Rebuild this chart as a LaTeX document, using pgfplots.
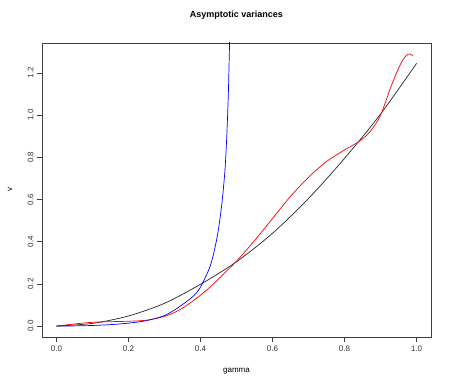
\documentclass[border=0pt]{standalone}
\usepackage{fontspec}
\setmainfont{Liberation Sans}
\usepackage{pgfplots}
\pgfplotsset{compat=1.18}
\begin{document}
\begin{tikzpicture}
\useasboundingbox (-42pt,-43pt) rectangle (432pt,337pt);
\begin{axis}[
  at={(0,0)}, anchor=south west,
  scale only axis, width=389pt, height=294pt,
  xmin=-0.04, xmax=1.04, ymin=-0.0516, ymax=1.3416,
  xtick={0,0.2,0.4,0.6,0.8,1.0},
  ytick={0,0.2,0.4,0.6,0.8,1.0,1.2},
  /pgf/number format/assume math mode=true,
  /pgf/number format/.cd, fixed, fixed zerofill, precision=1, /pgfplots/.cd,
  tick align=outside, major tick length=5pt,
  xtick pos=bottom, ytick pos=left,
  axis line style={black!75}, tick style={black!75, line width=0.5pt},
  ticklabel style={font=\fontsize{8}{9}\selectfont, text=black!80},
  yticklabel style={rotate=90, anchor=south},
  title={Asymptotic variances},
  title style={at={(axis description cs:0.5,1.0748)}, anchor=center, font=\bfseries\fontsize{9}{10}\selectfont},
  xlabel={gamma}, ylabel={v},
  xlabel style={at={(axis description cs:0.5,-0.1156)}, anchor=center, font=\fontsize{8}{9}\selectfont},
  ylabel style={at={(axis description cs:-0.0823,0.5)}, anchor=center, font=\fontsize{8}{9}\selectfont},
]
% black
\addplot[black!85, line width=0.7pt, smooth] coordinates {
(0,0) (0.1,0.013) (0.2,0.048) (0.3,0.108) (0.4,0.198) (0.5,0.305)
(0.6,0.44) (0.7,0.605) (0.8,0.795) (0.9,1.005) (1.0,1.245)};
% red
\addplot[red, line width=0.7pt, smooth] coordinates {
(0,0) (0.03,0.006) (0.06,0.012) (0.1,0.018) (0.15,0.021) (0.2,0.023)
(0.25,0.028) (0.3,0.046) (0.34,0.075) (0.38,0.12) (0.42,0.175) (0.46,0.24)
(0.5,0.308) (0.55,0.405) (0.6,0.51) (0.65,0.615) (0.7,0.705) (0.75,0.78)
(0.8,0.835) (0.84,0.875) (0.87,0.92) (0.9,1.0) (0.93,1.14) (0.955,1.24)
(0.97,1.28) (0.981,1.29) (0.99,1.28)};
% blue
\addplot[blue, line width=0.7pt, smooth] coordinates {
(0,0) (0.05,0.001) (0.1,0.003) (0.15,0.007) (0.2,0.014) (0.25,0.026)
(0.3,0.05) (0.34,0.09) (0.38,0.142) (0.40,0.185) (0.426,0.28) (0.44,0.37)
(0.45,0.46) (0.46,0.59) (0.468,0.74) (0.473,0.9) (0.477,1.08)
(0.4795,1.25) (0.481,1.36)};
\end{axis}
\end{tikzpicture}
\end{document}
